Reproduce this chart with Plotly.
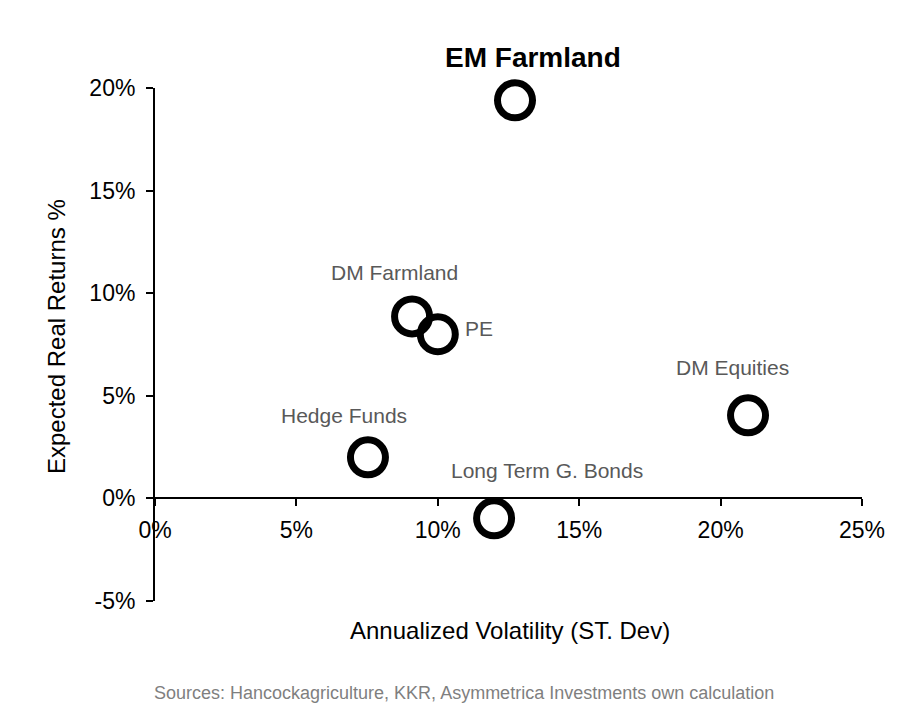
import plotly.graph_objects as go

names = ["EM Farmland", "DM Farmland", "PE", "DM Equities", "Hedge Funds", "Long Term G. Bonds"]
volatility = [12.73, 9.09, 10.0, 20.97, 7.53, 11.99]
returns = [19.4, 8.87, 8.0, 4.05, 2.0, -0.97]

x_ticks = [0, 5, 10, 15, 20, 25]
x_tick_text = ["0%", "5%", "10%", "15%", "20%", "25%"]
y_ticks = [-5, 0, 5, 10, 15, 20]
y_tick_text = ["-5%", "0%", "5%", "10%", "15%", "20%"]

# label placement in pixel coordinates (center x / left x, center y)
label_pos = {
    "EM Farmland": (533, 57, "center"),
    "DM Farmland": (394, 272, "center"),
    "PE": (463, 328, "left"),
    "DM Equities": (732, 367, "center"),
    "Hedge Funds": (344, 415, "center"),
    "Long Term G. Bonds": (547, 470, "center"),
}

FONT = "Liberation Sans, Arial, sans-serif"
W, H = 906, 719
L, R, T, B = 155, 44, 88, 118
PW, PH = W - L - R, H - T - B


def px(x):
    return (x - L) / PW


def py(y):
    return (H - B - y) / PH


fig = go.Figure()
fig.add_trace(go.Scatter(
    x=volatility, y=returns, mode="markers",
    marker=dict(symbol="circle-open", size=35, color="black",
                line=dict(color="black", width=7)),
    hoverinfo="skip", showlegend=False, cliponaxis=False,
))

annotations = []
for n in names:
    lx, ly, anc = label_pos[n]
    if n == "EM Farmland":
        font = dict(family=FONT, size=28, color="black", weight="bold")
    else:
        font = dict(family=FONT, size=21, color="#595959")
    annotations.append(dict(x=px(lx), y=py(ly), xref="paper", yref="paper", text=n,
                            showarrow=False, xanchor=anc, yanchor="middle", font=font))

annotations.append(dict(x=px(510), y=py(630), xref="paper", yref="paper",
                        text="Annualized Volatility (ST. Dev)", showarrow=False,
                        xanchor="center", yanchor="middle",
                        font=dict(family=FONT, size=24, color="black")))
annotations.append(dict(x=px(56), y=py(337), xref="paper", yref="paper",
                        text="Expected Real Returns %", showarrow=False, textangle=-90,
                        xanchor="center", yanchor="middle",
                        font=dict(family=FONT, size=24, color="black")))
annotations.append(dict(x=px(464), y=py(693), xref="paper", yref="paper",
                        text="Sources: Hancockagriculture, KKR, Asymmetrica Investments own calculation",
                        showarrow=False, xanchor="center", yanchor="middle",
                        font=dict(family=FONT, size=18, color="#7f7f7f")))

fig.update_layout(
    width=W, height=H,
    margin=dict(l=L, r=R, t=T, b=B),
    paper_bgcolor="white", plot_bgcolor="white",
    font=dict(family=FONT, color="black"),
    xaxis=dict(range=[0, 25], tickvals=x_ticks, ticktext=x_tick_text,
               showgrid=False, zeroline=False, showline=True, linecolor="black", linewidth=2,
               ticks="outside", ticklen=7, tickwidth=2, tickcolor="black",
               tickfont=dict(size=23, family=FONT, color="black"), ticklabelstandoff=4,
               anchor="free", position=0.2),
    yaxis=dict(range=[-5, 20], tickvals=y_ticks, ticktext=y_tick_text,
               showgrid=False, zeroline=False, showline=True, linecolor="black", linewidth=2,
               ticks="outside", ticklen=7, tickwidth=2, tickcolor="black",
               tickfont=dict(size=23, family=FONT, color="black"), ticklabelstandoff=6),
    annotations=annotations,
)

fig.write_html("out.html")
